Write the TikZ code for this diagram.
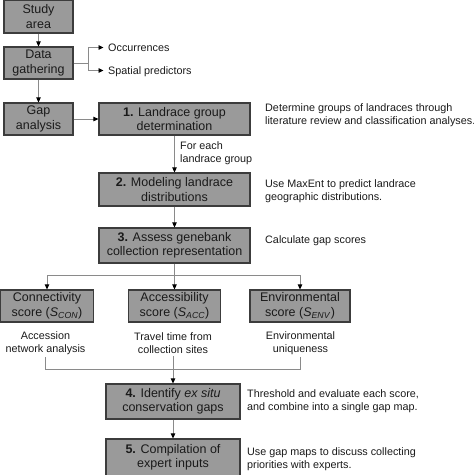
\documentclass[tikz,border=0pt]{standalone}
\usepackage{fontspec}
\setmainfont{Liberation Sans}
\usetikzlibrary{arrows.meta}
\definecolor{boxfill}{HTML}{9A9A9A}
\definecolor{boxedge}{HTML}{3C3C3C}
\definecolor{linegray}{HTML}{8A8A8A}
\definecolor{txt}{HTML}{1A1A1A}
\begin{document}
\begin{tikzpicture}[x=1pt,y=-1pt,
  box/.style={draw=boxedge, fill=boxfill, line width=1.3pt, align=center,
    font=\fontsize{12.5}{14.5}\selectfont, inner sep=0pt, text=txt},
  desc/.style={anchor=west, align=left, font=\fontsize{10.8}{13}\selectfont,
    inner sep=0pt, text=txt},
  note/.style={align=center, font=\fontsize{10.8}{12.5}\selectfont,
    inner xsep=0pt, inner ysep=3pt, text=txt},
  conn/.style={draw=linegray, line width=0.9pt},
  arr/.style={conn, -{Triangle[length=5pt,width=4.6pt,color=black]}},
]
\useasboundingbox (0,0) rectangle (474,475);

% left column
\node[box, minimum width=69, minimum height=33] (study) at (38.5,16.5) {Study\\area};
\node[box, minimum width=69, minimum height=32] (data) at (38.5,63) {Data\\gathering};
\node[box, minimum width=69, minimum height=32] (gap) at (38.5,119) {Gap\\analysis};

% data outputs
\coordinate (j1) at (88,63);
\node[desc, text height=7.7pt, text depth=0pt] (occ) at (108,47.5) {Occurrences};
\node[desc, text height=7.7pt, text depth=0pt] (spat) at (108,70.5) {Spatial predictors};

% main steps
\node[box, minimum width=151, minimum height=32] (b1) at (174.5,119) {\textbf{1.} Landrace group\\determination};
\node[box, minimum width=151, minimum height=33] (b2) at (174.5,189.5) {\textbf{2.} Modeling landrace\\distributions};
\node[box, minimum width=151, minimum height=35] (b3) at (174.5,245.5) {\textbf{3.} Assess genebank\\collection representation};

\node[desc] (fe) at (180,153.5) {For each\\landrace group};

\node[desc] (d1) at (265,115.5) {Determine groups of landraces through\\literature review and classification analyses.};
\node[desc] (d2) at (265,191) {Use MaxEnt to predict landrace\\geographic distributions.};
\node[desc] (d3) at (265,241) {Calculate gap scores};

% scores
\node[box, minimum width=93, minimum height=32] (con) at (47,306) {Connectivity\\score (\textit{S}\textsubscript{\textit{CON}})};
\node[box, minimum width=92, minimum height=32] (acc) at (174.5,306) {Accessibility\\score (\textit{S}\textsubscript{\textit{ACC}})};
\node[box, minimum width=100, minimum height=32] (env) at (300,306) {Environmental\\score (\textit{S}\textsubscript{\textit{ENV}})};

\node[note] (na) at (45.5,343) {Accession\\network analysis};
\node[note] (nt) at (173,343) {Travel time from\\collection sites};
\node[note] (ne) at (300.5,343) {Environmental\\uniqueness};

% final steps
\node[box, minimum width=134, minimum height=35] (b4) at (173,401.5) {\textbf{4.} Identify \textit{ex situ}\\conservation gaps};
\node[box, minimum width=134, minimum height=37] (b5) at (173,457.5) {\textbf{5.} Compilation of\\expert inputs};

\node[desc] (d4) at (247,401) {Threshold and evaluate each score,\\and combine into a single gap map.};
\node[desc] (d5) at (247,459.5) {Use gap maps to discuss collecting\\priorities with experts.};

% connectors
\draw[arr] (study) -- (data);
\draw[arr] (data) -- (gap);
\draw[arr] (gap) -- (b1);
\draw[conn] (data.east) -- (j1);
\draw[arr, shorten >=4.5pt] (j1) |- (occ.west);
\draw[arr, shorten >=4.5pt] (j1) |- (spat.west);
\draw[arr] (b1) -- (b2);
\draw[arr] (b2) -- (b3);

\coordinate (jt) at (174.5,275);
\draw[conn] (b3.south) -- (jt);
\draw[arr] (jt) -| (con.north);
\draw[arr] (jt) -| (env.north);
\draw[arr] (jt) -- (acc.north);

\coordinate (jb) at (173,369);
\draw[conn] (na.south) -- (na.south |- jb) -- (ne.south |- jb) -- (ne.south);
\draw[conn] (nt.south) -- (nt.south |- jb);
\draw[arr] (jb) -- (b4.north);
\draw[arr] (b4) -- (b5);
\end{tikzpicture}
\end{document}
